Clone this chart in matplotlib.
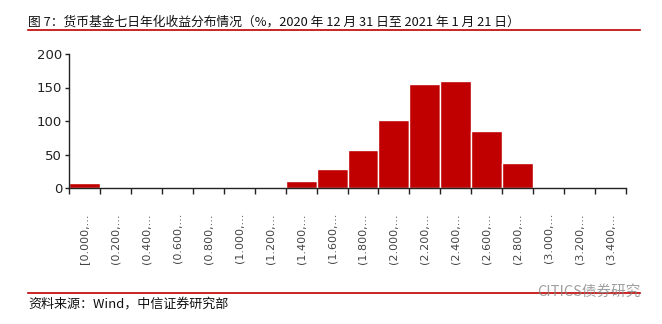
import matplotlib
matplotlib.use("Agg")
import matplotlib.pyplot as plt
import numpy as np

# bins of 7-day annualised yield (%), truncated labels as in the source chart
bin_labels = ["[0.000,...", "(0.200,...", "(0.400,...", "(0.600,...", "(0.800,...",
              "(1.000,...", "(1.200,...", "(1.400,...", "(1.600,...", "(1.800,...",
              "(2.000,...", "(2.200,...", "(2.400,...", "(2.600,...", "(2.800,...",
              "(3.000,...", "(3.200,...", "(3.400,..."]
fund_counts = [7, 0, 0, 0, 0, 0, 0, 11, 28, 57, 101, 155, 160, 85, 37, 0, 0, 0]
y_ticks = [0, 50, 100, 150, 200]

TITLE = "图 7：货币基金七日年化收益分布情况（%，2020 年 12 月 31 日至 2021 年 1 月 21 日）"
SOURCE = "资料来源：Wind，中信证券研究部"
MARK = "CITICS债券研究"

RED = "#C00000"
FONTS = ["Noto Sans CJK SC", "DejaVu Sans"]
NUMF = ["DejaVu Sans", "Noto Sans CJK SC"]

W, H = 662, 324
fig = plt.figure(figsize=(W / 100, H / 100), dpi=100)

ax = fig.add_axes([69 / W, 1 - 188 / H, (626 - 69) / W, (188 - 54) / H])
x = np.arange(len(fund_counts))
ax.bar(x, fund_counts, width=1.0, color=RED, edgecolor="white", linewidth=1.0)
ax.set_xlim(-0.5, len(fund_counts) - 0.5)
ax.set_ylim(0, 200)

for s in ("top", "right"):
    ax.spines[s].set_visible(False)
for s in ("left", "bottom"):
    ax.spines[s].set_color("#222222")
    ax.spines[s].set_linewidth(1.0)

ax.set_yticks(y_ticks)
ax.set_yticklabels([str(v) for v in y_ticks], fontfamily=NUMF, fontsize=9.5, color="#222222")
ax.tick_params(axis="y", direction="out", length=3, width=1, color="#222222", pad=2)

# ticks on bin boundaries, labels at bin centres
ax.set_xticks(np.arange(len(fund_counts) + 1) - 0.5)
ax.set_xticklabels([])
ax.tick_params(axis="x", which="major", direction="out", length=4, width=1, color="#222222")
ax.set_xticks(x, minor=True)
ax.set_xticklabels(bin_labels, minor=True, rotation=90, fontfamily=NUMF,
                   fontsize=8, color="#444444")
ax.tick_params(axis="x", which="minor", length=0, pad=18)

# header & footer
fig.text(28 / W, 1 - 22 / H, TITLE, fontfamily=FONTS, fontsize=9.2, color="#111111",
         ha="left", va="center")
fig.add_artist(plt.Line2D([28 / W, 640 / W], [1 - 30 / H] * 2, color=RED, lw=1.2))
fig.add_artist(plt.Line2D([28 / W, 640 / W], [1 - 293 / H] * 2, color=RED, lw=1.2))
fig.text(28 / W, 1 - 304 / H, SOURCE, fontfamily=FONTS, fontsize=9.4, color="#111111",
         ha="left", va="center")
fig.text(640 / W, 1 - 292 / H, MARK, fontfamily=FONTS, fontsize=10.5, color="#888888",
         ha="right", va="center", alpha=0.8)

fig.savefig("out.png", dpi=100)
